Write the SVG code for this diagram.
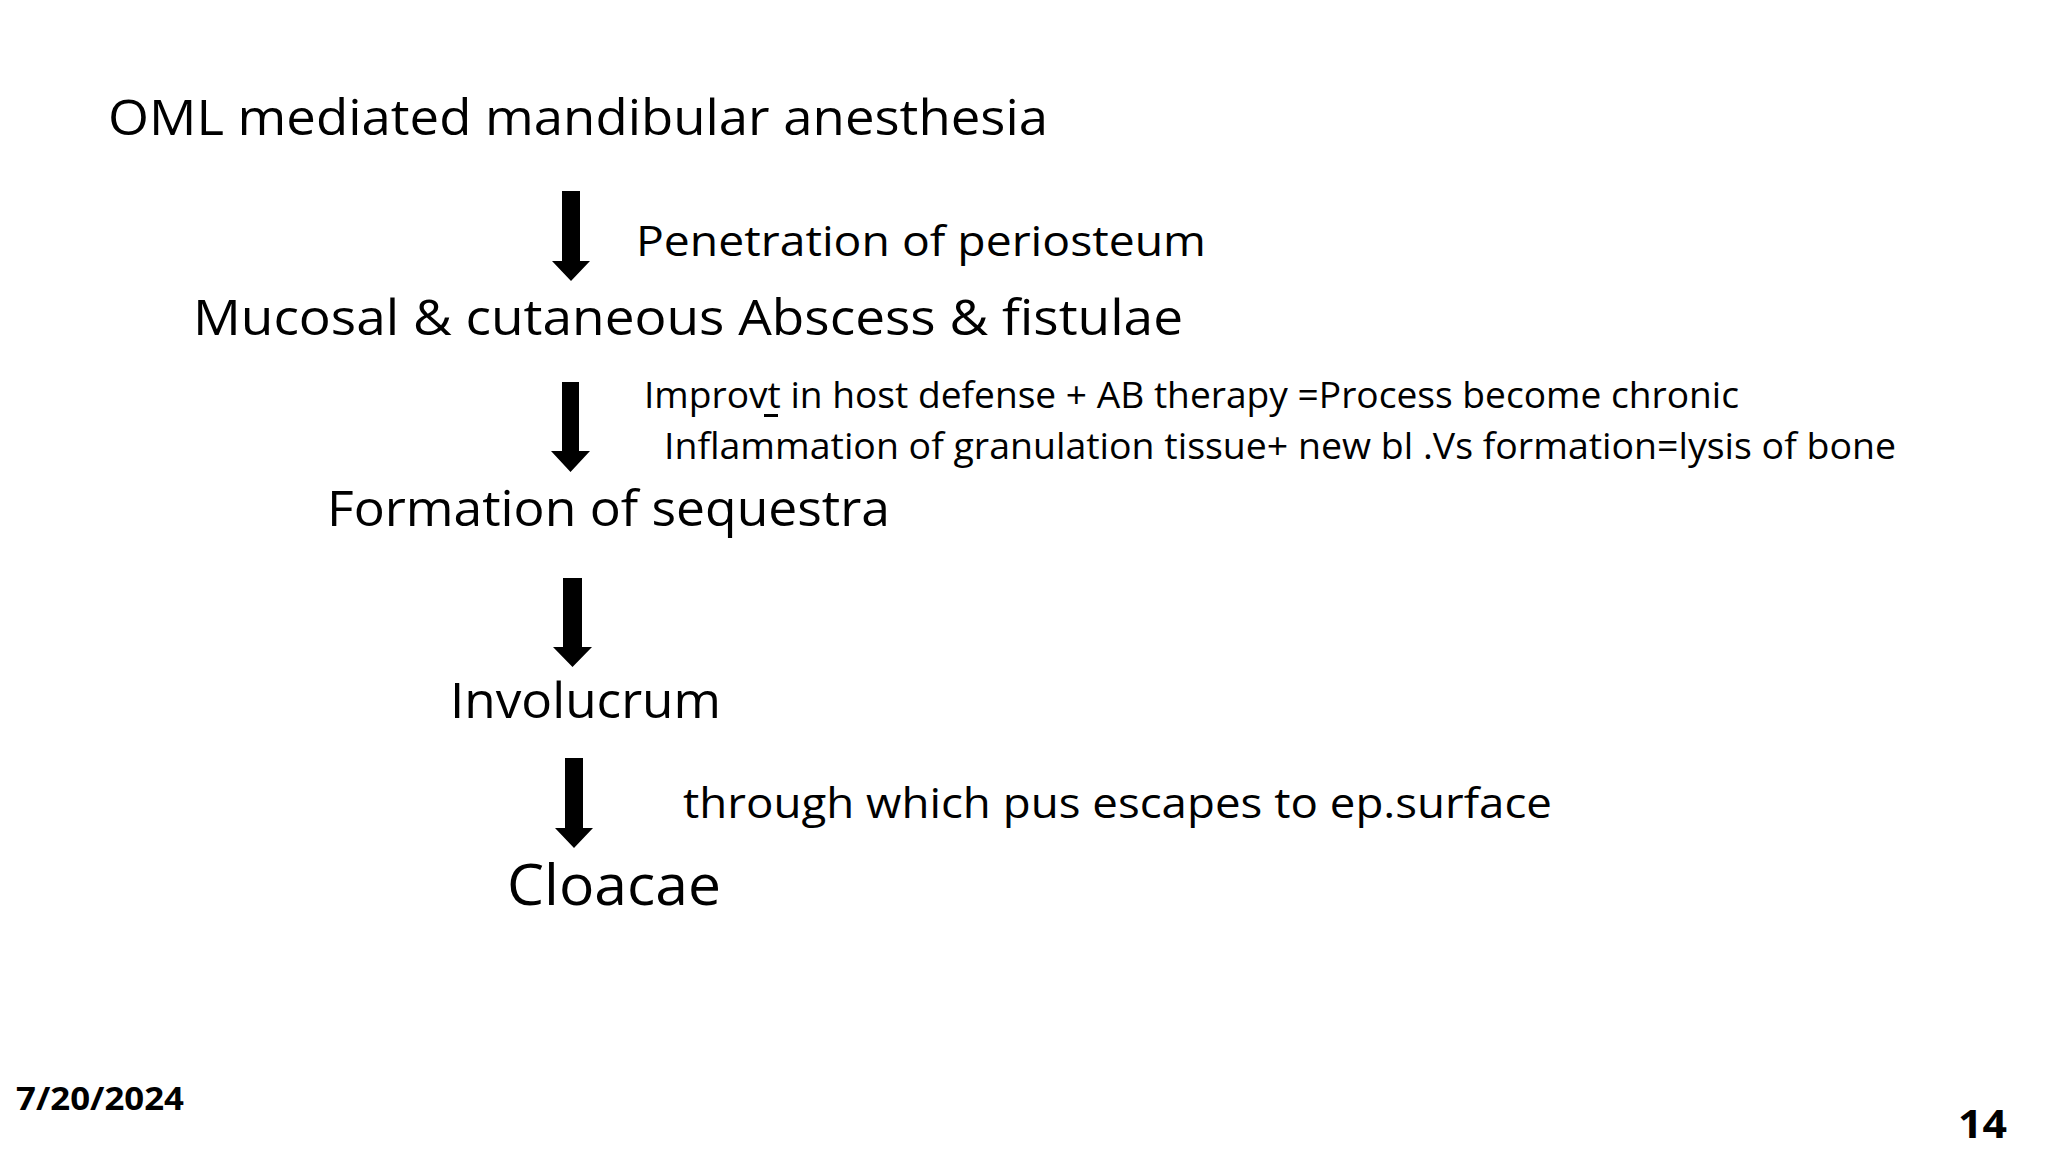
<svg xmlns="http://www.w3.org/2000/svg" width="2048" height="1152" viewBox="0 0 2048 1152">
<style>
text{font-family:"Open Sans","Noto Sans",sans-serif;fill:#000}
.l{font-size:50px}.m{font-size:42px}.s{font-size:37px}.b{font-weight:bold;font-size:32px}
.a{fill:#000}
</style>
<rect width="2048" height="1152" fill="#fff"/>
<g id="n1"><text class="l" x="108" y="135" textLength="940" lengthAdjust="spacingAndGlyphs">OML mediated  mandibular anesthesia</text></g>
<g id="n2"><text class="l" x="193" y="335" textLength="990" lengthAdjust="spacingAndGlyphs">Mucosal &amp; cutaneous  Abscess &amp; fistulae</text></g>
<g id="n3"><text class="l" x="327" y="526" textLength="563" lengthAdjust="spacingAndGlyphs">Formation of sequestra</text></g>
<g id="n4"><text class="l" x="450" y="718" textLength="271" lengthAdjust="spacingAndGlyphs">Involucrum</text></g>
<g id="n5"><text class="l" x="507" y="905" textLength="214" lengthAdjust="spacingAndGlyphs" style="font-size:57px">Cloacae</text></g>
<g id="connectors">
<polygon class="a" points="562,191 580,191 580,261 590,261 571,281 552,261 562,261"/>
<polygon class="a" points="562,382 579,382 579,451 590,451 570.5,472 551,451 562,451"/>
<polygon class="a" points="563,578 582,578 582,647 592,647 572.5,667 553,647 563,647"/>
<polygon class="a" points="565,758 583,758 583,828 593,828 574,848 555,828 565,828"/>
<text class="m" x="636" y="256" textLength="570" lengthAdjust="spacingAndGlyphs">Penetration  of  periosteum</text>
<text class="s" x="644" y="408" textLength="1095" lengthAdjust="spacingAndGlyphs">Improvt in host defense + AB therapy =Process become chronic</text>
<rect x="764" y="414" width="14" height="3"/>
<text class="s" x="664" y="459" textLength="1232" lengthAdjust="spacingAndGlyphs">Inflammation of granulation  tissue+ new bl .Vs formation=lysis of bone</text>
<text class="m" x="683" y="818" textLength="869" lengthAdjust="spacingAndGlyphs">through  which  pus escapes to ep.surface</text>
</g>
<text class="b" x="16" y="1110" textLength="168" lengthAdjust="spacingAndGlyphs">7/20/2024</text>
<text class="b" x="1958" y="1138" style="font-size:40px" textLength="49" lengthAdjust="spacingAndGlyphs">14</text>
</svg>
